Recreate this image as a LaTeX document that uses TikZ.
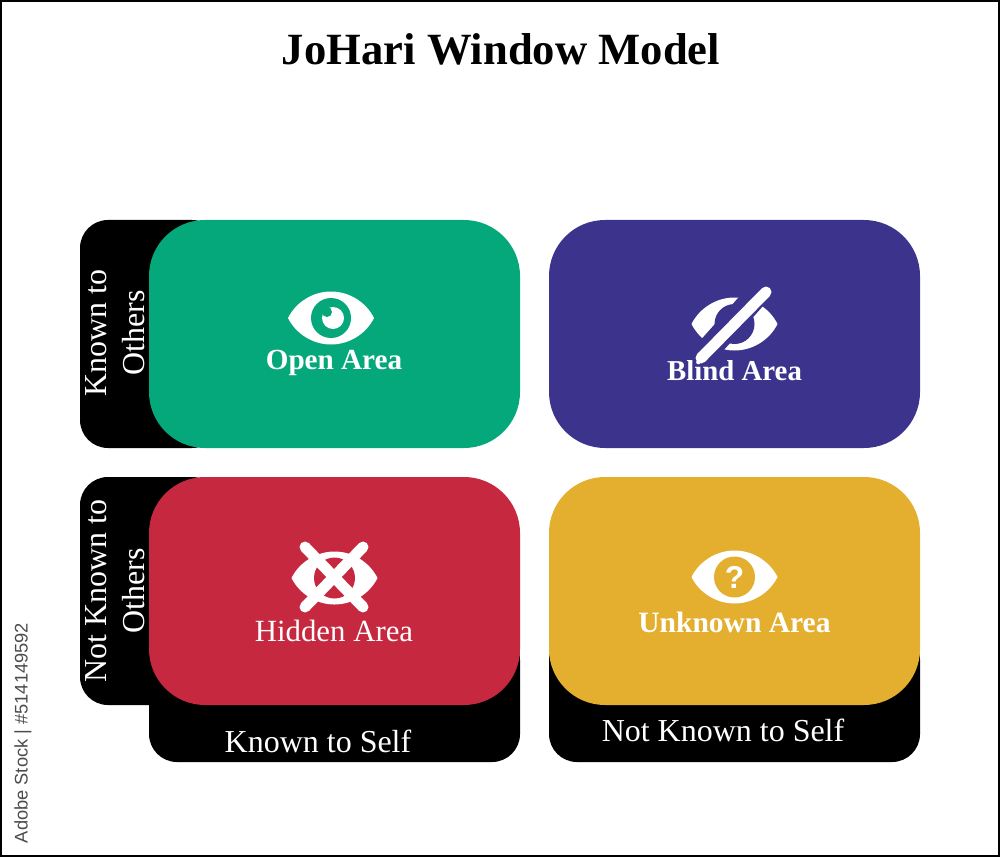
\documentclass[tikz,border=0pt]{standalone}
\usepackage{fontspec}
\setmainfont{Liberation Serif}
\setsansfont{Liberation Sans}
\usepackage{tikz}
\definecolor{opengreen}{HTML}{05A87A}
\definecolor{blindblue}{HTML}{3C348C}
\definecolor{hiddenred}{HTML}{C6283F}
\definecolor{unknownyellow}{HTML}{E4AE2E}
\tikzset{
	card/.style={rectangle, inner sep=0pt, outer sep=0pt, minimum width=3.71cm,
		minimum height=2.28cm, rounded corners=5.6mm},
	lefttab/.style={rectangle, fill=black, inner sep=0pt, outer sep=0pt,
		minimum width=1.4cm, minimum height=2.28cm, rounded corners=2.8mm},
	bottomtab/.style={rectangle, fill=black, inner sep=0pt, outer sep=0pt,
		minimum width=3.71cm, minimum height=1.3cm, rounded corners=2.8mm},
	area/.style={text=white, inner sep=0pt, font=\fontsize{8.77}{10}\selectfont},
	side/.style={text=white, inner sep=0pt, align=center,
		font=\fontsize{9.1}{10.8}\selectfont},
	eyeball/.pic={
		\fill [white] (-0.43,0) .. controls (-0.35,0.16) and (-0.18,0.265) .. (0,0.265)
			.. controls (0.18,0.265) and (0.35,0.16) .. (0.43,0)
			.. controls (0.35,-0.16) and (0.18,-0.265) .. (0,-0.265)
			.. controls (-0.18,-0.265) and (-0.35,-0.16) .. (-0.43,0) -- cycle;
	}
}
\begin{document}
\begin{tikzpicture}
	\useasboundingbox (0cm, 0cm) rectangle (10cm, 8.57cm);
	\node (frame) [rectangle, draw=black, line width=0.2mm, minimum width=9.98cm,
		minimum height=8.55cm, inner sep=0pt] at (5cm, 4.285cm) {};
	\node (title) [inner sep=0pt, font=\fontsize{12.7}{15}\selectfont\bfseries] at (5.01cm, 8.08cm) {JoHari Window Model};

	% black tabs
	\node (tab1) [lefttab] at (1.5cm, 5.23cm) {};
	\node (tab2) [lefttab] at (1.5cm, 2.66cm) {};
	\node (tab3) [bottomtab] at (3.345cm, 1.6cm) {};
	\node (tab4) [bottomtab] at (7.345cm, 1.6cm) {};

	% cards
	\node (open) [card, fill=opengreen] at (3.345cm, 5.23cm) {};
	\node (blind) [card, fill=blindblue] at (7.345cm, 5.23cm) {};
	\node (hidden) [card, fill=hiddenred] at (3.345cm, 2.66cm) {};
	\node (unknown) [card, fill=unknownyellow] at (7.345cm, 2.66cm) {};

	% open eye
	\pic at (3.31cm, 5.39cm) {eyeball};
	\fill [opengreen] (3.31cm, 5.39cm) circle (0.2cm);
	\fill [white] (3.33cm, 5.39cm) circle (0.11cm);
	\fill [opengreen] (3.27cm, 5.45cm) circle (0.05cm);

	% blind eye
	\pic at (7.345cm, 5.33cm) {eyeball};
	\fill [blindblue] (7.345cm, 5.33cm) circle (0.2cm);
	\draw [blindblue, line width=0.24cm] (7.79cm, 5.87cm) -- (6.9cm, 4.87cm);
	\draw [white, line width=0.11cm, line cap=round] (7.66cm, 5.65cm) -- (7.01cm, 4.99cm);

	% hidden eye
	\pic at (3.345cm, 2.79cm) {eyeball};
	\fill [hiddenred] (3.345cm, 2.79cm) circle (0.205cm);
	\draw [white, line width=0.11cm, line cap=round] (3.05cm, 3.1cm) -- (3.63cm, 2.5cm);
	\draw [white, line width=0.11cm, line cap=round] (3.63cm, 3.1cm) -- (3.05cm, 2.5cm);

	% unknown eye
	\pic at (7.345cm, 2.8cm) {eyeball};
	\fill [unknownyellow] (7.345cm, 2.8cm) circle (0.205cm);
	\node (mark) [text=white, inner sep=0pt, font=\fontsize{9}{10}\sffamily\bfseries] at (7.345cm, 2.8cm) {?};

	% labels
	\node (openlabel) [area, font=\fontsize{8.3}{10}\selectfont\bfseries] at (3.34cm, 4.94cm) {Open Area};
	\node (blindlabel) [area, font=\fontsize{8.2}{10}\selectfont\bfseries] at (7.345cm, 4.86cm) {Blind Area};
	\node (hiddenlabel) [area] at (3.34cm, 2.26cm) {Hidden Area};
	\node (unknownlabel) [area, font=\fontsize{8.4}{10}\selectfont\bfseries] at (7.345cm, 2.35cm) {Unknown Area};
	\node (selfknown) [side] at (3.18cm, 1.16cm) {Known to Self};
	\node (selfnot) [side] at (7.23cm, 1.27cm) {Not Known to Self};
	\node (othersknown) [side, rotate=90] at (1.15cm, 5.24cm) {Known to\\Others};
	\node (othersnot) [side, rotate=90] at (1.15cm, 2.66cm) {Not Known to\\Others};
	\node (stock) [rotate=90, inner sep=0pt, text=black!70, font=\fontsize{5.2}{7}\sffamily] at (0.23cm, 1.24cm) {Adobe Stock | \#514149592};
\end{tikzpicture}
\end{document}
